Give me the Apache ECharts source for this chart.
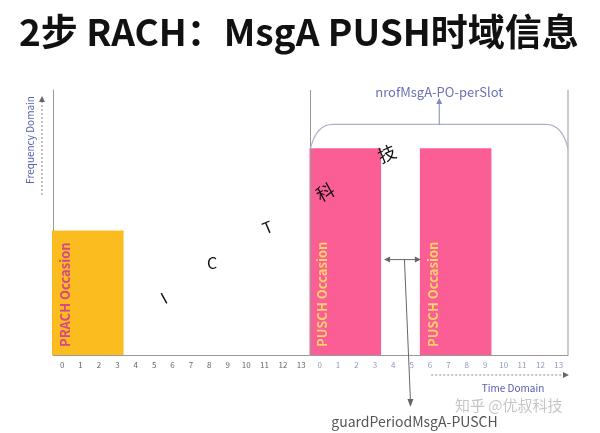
<!DOCTYPE html>
<html>
<head>
<meta charset="utf-8">
<script src="https://cdn.jsdelivr.net/npm/echarts@6/dist/echarts.min.js"></script>
<style>
  html, body { margin: 0; padding: 0; background: #fff; }
  #chart { width: 600px; height: 433px; }
</style>
</head>
<body>
<div id="chart"></div>
<script>
// symbols of two slots, 14 each
const symbolLabels = ['0','1','2','3','4','5','6','7','8','9','10','11','12','13',
  '0','1','2','3','4','5','6','7','8','9','10','11','12','13'];
// occasions: [startSymbol, endSymbol(inclusive), height]
const occStart = [0, 14, 20];
const occEnd = [3, 17, 23];
const occHeight = [4.7, 7.8, 7.8];
const occNames = ['PRACH Occasion', 'PUSCH Occasion', 'PUSCH Occasion'];
const occColors = ['#fbbc1f', '#fb5e94', '#fb5e94'];
const occTextColors = ['#d6468a', '#fdd36a', '#fdd36a'];

const chart = echarts.init(document.getElementById('chart'));
const FONT = '"Noto Sans CJK SC", "Noto Sans", sans-serif';

function renderOcc(params, api) {
  const i = params.dataIndex;
  const band = api.size([1, 0])[0];
  const p0 = api.coord([api.value(0), api.value(2)]);
  const p1 = api.coord([api.value(1), 0]);
  const x0 = p0[0] - band / 2 - 1, x1 = p1[0] + band / 2 - 3;
  return {
    type: 'group',
    children: [
      { type: 'rect', shape: { x: x0, y: p0[1], width: x1 - x0, height: p1[1] - p0[1] },
        style: { fill: occColors[i] } },
      { type: 'text', x: x0 + 13, y: p1[1] - 8, rotation: Math.PI / 2,
        style: { text: occNames[i], fill: occTextColors[i], font: 'bold 13px ' + FONT,
          align: 'left', verticalAlign: 'middle' } }
    ]
  };
}

function renderDeco(params, api) {
  if (params.dataIndex !== 0) return null;
  const band = api.size([1, 0])[0];
  const yb = api.coord([0, 0])[1];
  const yt = api.coord([0, 10])[1];
  const xl = api.coord([0, 0])[0] - band / 2;
  const xm = api.coord([14, 0])[0] - band / 2;
  const xr = api.coord([27, 0])[0] + band / 2;
  const yBrace = api.coord([0, 8.7])[1];
  const yBraceEnd = api.coord([0, 7.8])[1];
  const xc = (xm + xr) / 2;
  const gL = api.coord([17, 0])[0] + band / 2;
  const gR = api.coord([20, 0])[0] - band / 2;
  const gy = api.coord([0, 3.6])[1];
  const lineC = '#999';
  const braceC = '#a9b0d0';
  return {
    type: 'group',
    children: [
      { type: 'line', shape: { x1: xm, y1: yt, x2: xm, y2: yb }, style: { stroke: lineC, lineWidth: 1 } },
      { type: 'line', shape: { x1: xr, y1: yt, x2: xr, y2: yb }, style: { stroke: lineC, lineWidth: 1 } },
      { type: 'path', shape: { pathData:
          'M' + xm + ' ' + yBraceEnd + ' Q' + (xm + 6) + ' ' + yBrace + ' ' + (xm + 22) + ' ' + yBrace +
          ' L' + (xr - 22) + ' ' + yBrace + ' Q' + (xr - 6) + ' ' + yBrace + ' ' + xr + ' ' + yBraceEnd },
        style: { stroke: braceC, fill: null, lineWidth: 1.2 } },
      { type: 'line', shape: { x1: xc, y1: yBrace, x2: xc, y2: yt + 12 }, style: { stroke: '#8088c0', lineWidth: 1 } },
      { type: 'polygon', shape: { points: [[xc - 3, yt + 14], [xc + 3, yt + 14], [xc, yt + 8]] }, style: { fill: '#8088c0' } },
      { type: 'text', x: xc, y: yt + 2, style: { text: 'nrofMsgA-PO-perSlot', fill: '#6870b8',
          font: '13px ' + FONT, align: 'center', verticalAlign: 'middle' } },
      // guard period double arrow
      { type: 'line', shape: { x1: gL + 4, y1: gy, x2: gR - 4, y2: gy }, style: { stroke: '#666', lineWidth: 1 } },
      { type: 'polygon', shape: { points: [[gL, gy], [gL + 6, gy - 3], [gL + 6, gy + 3]] }, style: { fill: '#666' } },
      { type: 'polygon', shape: { points: [[gR, gy], [gR - 6, gy - 3], [gR - 6, gy + 3]] }, style: { fill: '#666' } },
      { type: 'line', shape: { x1: (gL + gR) / 2 + 2, y1: gy, x2: (gL + gR) / 2 + 8, y2: yb + 46 }, style: { stroke: '#666', lineWidth: 1 } },
      { type: 'polygon', shape: { points: [[(gL + gR) / 2 + 5, yb + 44], [(gL + gR) / 2 + 11, yb + 44], [(gL + gR) / 2 + 8, yb + 52]] }, style: { fill: '#666' } },
      { type: 'text', x: (gL + gR) / 2 + 12, y: yb + 67, style: { text: 'guardPeriodMsgA-PUSCH', fill: '#555',
          font: '14px ' + FONT, align: 'center', verticalAlign: 'middle' } },
      // time domain arrow
      { type: 'line', shape: { x1: xc - 8, y1: yb + 20, x2: xr - 4, y2: yb + 20 }, style: { stroke: '#888', lineWidth: 1, lineDash: [2, 2] } },
      { type: 'polygon', shape: { points: [[xr - 5, yb + 17], [xr - 5, yb + 23], [xr + 1, yb + 20]] }, style: { fill: '#666' } },
      { type: 'text', x: xr - 55, y: yb + 33, style: { text: 'Time Domain', fill: '#5560b0',
          font: '10px ' + FONT, align: 'center', verticalAlign: 'middle' } },
      // frequency domain arrow
      { type: 'line', shape: { x1: xl - 11, y1: yb - 160, x2: xl - 11, y2: yt + 12 }, style: { stroke: '#888', lineWidth: 1, lineDash: [2, 2] } },
      { type: 'polygon', shape: { points: [[xl - 14, yt + 12], [xl - 8, yt + 12], [xl - 11, yt + 6]] }, style: { fill: '#666' } },
      { type: 'text', x: xl - 23, y: yt + 50, rotation: Math.PI / 2, style: { text: 'Frequency Domain', fill: '#5560b0',
          font: '10px ' + FONT, align: 'center', verticalAlign: 'middle' } }
    ]
  };
}

const option = {
  animation: false,
  title: {
    text: '2步 RACH：MsgA PUSH时域信息',
    left: 14, top: 8,
    textStyle: { fontFamily: FONT, fontSize: 37, fontWeight: 'bold', color: '#111' }
  },
  grid: { left: 53, right: 32, top: 90, bottom: 78 },
  xAxis: {
    type: 'category',
    data: symbolLabels,
    axisLine: { lineStyle: { color: '#999' } },
    axisTick: { show: false },
    axisLabel: {
      interval: 0, fontSize: 8, margin: 6, fontFamily: FONT,
      color: (v, i) => (i < 14 ? '#666' : '#8e9ac0')
    }
  },
  yAxis: {
    type: 'value', min: 0, max: 10,
    axisLine: { show: true, lineStyle: { color: '#999' } },
    axisTick: { show: false }, axisLabel: { show: false }, splitLine: { show: false }
  },
  graphic: [
    { type: 'text', z: 100, left: 158, top: 290, rotation: 0.5, style: { text: 'I', font: '16px ' + FONT, fill: '#111' } },
    { type: 'text', z: 100, left: 207, top: 255, style: { text: 'C', font: '16px ' + FONT, fill: '#111' } },
    { type: 'text', z: 100, left: 260, top: 218, rotation: 0.4, style: { text: 'T', font: '16px ' + FONT, fill: '#111' } },
    { type: 'text', z: 100, left: 313, top: 180, rotation: 0.5, style: { text: '科', font: '18px ' + FONT, fill: '#111' } },
    { type: 'text', z: 100, left: 375, top: 142, rotation: 0.4, style: { text: '技', font: '18px ' + FONT, fill: '#111' } },
    { type: 'text', z: 100, left: 455, top: 398, style: { text: '知乎 @优叔科技', font: '15px ' + FONT, fill: 'rgba(150,150,150,0.55)' } }
  ],
  series: [
    {
      type: 'custom', renderItem: renderOcc,
      data: occStart.map((s, i) => [s, occEnd[i], occHeight[i]]),
      encode: { x: [0, 1], y: 2 }
    },
    { type: 'custom', renderItem: renderDeco, data: [[0, 0]], z: 5 }
  ]
};
chart.setOption(option);
</script>
</body>
</html>
